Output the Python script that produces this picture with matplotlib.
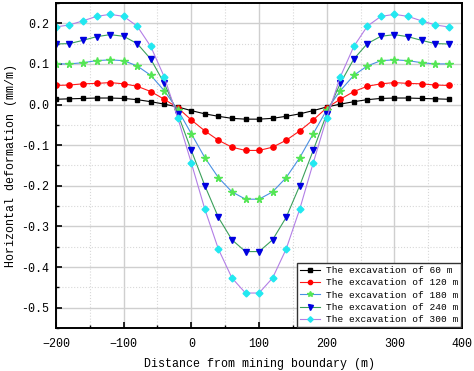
import matplotlib.pyplot as plt
from matplotlib.ticker import MultipleLocator

plt.rcParams['font.family'] = ['Liberation Mono', 'DejaVu Sans Mono']

# distance from mining boundary (m)
x = list(range(-200, 400, 20))

# horizontal deformation (mm/m) for each excavation length
d60 = [0.013, 0.014, 0.015, 0.016, 0.016, 0.015, 0.012, 0.007, 0.001, -0.006,
       -0.015, -0.023, -0.029, -0.034, -0.036, -0.036, -0.034, -0.029, -0.023, -0.015,
       -0.006, 0.001, 0.007, 0.012, 0.015, 0.016, 0.016, 0.015, 0.014, 0.013]
d120 = [0.047, 0.048, 0.051, 0.052, 0.054, 0.051, 0.045, 0.032, 0.013, -0.008,
        -0.038, -0.065, -0.088, -0.105, -0.113, -0.113, -0.105, -0.088, -0.065, -0.038,
        -0.008, 0.013, 0.032, 0.045, 0.051, 0.054, 0.052, 0.051, 0.048, 0.047]
d180 = [0.100, 0.100, 0.103, 0.108, 0.110, 0.108, 0.095, 0.072, 0.034, -0.013,
        -0.072, -0.131, -0.180, -0.215, -0.233, -0.233, -0.215, -0.180, -0.131, -0.072,
        -0.013, 0.034, 0.072, 0.095, 0.108, 0.110, 0.108, 0.103, 0.100, 0.100]
d240 = [0.149, 0.150, 0.158, 0.167, 0.172, 0.168, 0.150, 0.112, 0.052, -0.023,
        -0.113, -0.200, -0.278, -0.333, -0.362, -0.362, -0.333, -0.278, -0.200, -0.113,
        -0.023, 0.052, 0.112, 0.150, 0.168, 0.172, 0.167, 0.158, 0.150, 0.149]
d300 = [0.191, 0.196, 0.206, 0.217, 0.222, 0.217, 0.193, 0.143, 0.068, -0.033,
        -0.144, -0.258, -0.356, -0.427, -0.464, -0.464, -0.427, -0.356, -0.258, -0.144,
        -0.033, 0.068, 0.143, 0.193, 0.217, 0.222, 0.217, 0.206, 0.196, 0.191]

labels = ["The excavation of 60 m", "The excavation of 120 m",
          "The excavation of 180 m", "The excavation of 240 m",
          "The excavation of 300 m"]

fig = plt.figure(figsize=(4.74, 3.71), dpi=100)
ax = fig.add_axes([0.118, 0.116, 0.857, 0.876])

ax.plot(x, d60, color="black", marker="s", ms=3.2, lw=0.8, label=labels[0])
ax.plot(x, d120, color="#ff1a1a", marker="o", ms=3.8, lw=0.8,
        mfc="#ff0000", mec="#ff0000", label=labels[1])
ax.plot(x, d180, color="#4a90e2", marker="*", ms=5.5, lw=0.8,
        mfc="#55e655", mec="#55e655", label=labels[2])
ax.plot(x, d240, color="#3aa05a", marker="v", ms=4.5, lw=0.8,
        mfc="#0000e0", mec="#0000e0", label=labels[3])
ax.plot(x, d300, color="#b27ee6", marker="D", ms=3.5, lw=0.8,
        mfc="#22e8f0", mec="#22e8f0", label=labels[4])

ax.set_xlim(-200, 400)
ax.set_ylim(-0.55, 0.25)
ax.xaxis.set_major_locator(MultipleLocator(100))
ax.xaxis.set_minor_locator(MultipleLocator(50))
ax.yaxis.set_major_locator(MultipleLocator(0.1))
ax.yaxis.set_minor_locator(MultipleLocator(0.05))
ax.yaxis.set_major_formatter(plt.FuncFormatter(lambda v, p: f"{v:.1f}".replace("-0.0", "0.0")))

ax.grid(which="major", color="#cfcfcf", lw=1.0)
ax.grid(which="minor", color="#d8d8d8", lw=0.8, ls=":")
ax.set_axisbelow(True)

ax.tick_params(which="both", direction="in", top=False, right=False, labelsize=8.4)
ax.tick_params(axis="x", which="major", pad=7)
ax.tick_params(axis="y", which="major", pad=5)
ax.tick_params(which="major", length=4, width=1.2)
ax.tick_params(which="minor", length=2.5, width=1.0)
for s in ax.spines.values():
    s.set_linewidth(1.4)

ax.set_xlabel("Distance from mining boundary (m)", fontsize=8.4, labelpad=6)
ax.set_ylabel("Horizontal deformation (mm/m)", fontsize=8.4, labelpad=3)

leg = ax.legend(loc="lower right", fontsize=6.8, frameon=True, fancybox=False,
                edgecolor="#333333", framealpha=1, handlelength=2.2,
                handletextpad=0.6, borderpad=0.3, labelspacing=0.35,
                borderaxespad=0.1, markerscale=0.8)
leg.get_frame().set_linewidth(1.0)

fig.savefig("out.png", dpi=100)
